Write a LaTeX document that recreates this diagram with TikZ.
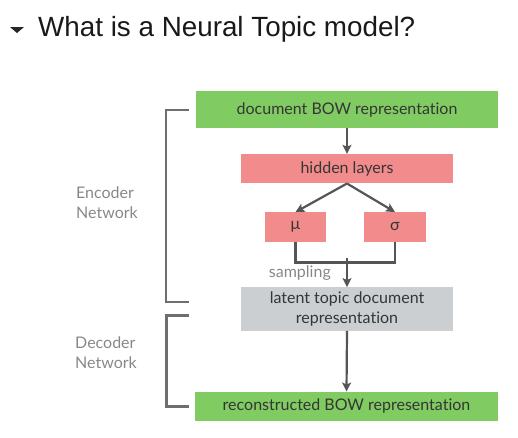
\documentclass[tikz,border=0pt]{standalone}
\usepackage{fontspec}
\setmainfont{Liberation Sans}
\newfontfamily\boxfont[Ligatures={NoCommon}]{Lato}
\usetikzlibrary{arrows.meta}
\definecolor{bgreen}{HTML}{80CC62}
\definecolor{bred}{HTML}{F28B8B}
\definecolor{bgray}{HTML}{CBCFD2}
\definecolor{btext}{HTML}{353535}
\definecolor{lgray}{HTML}{6B6F72}
\definecolor{ltext}{HTML}{85888A}
\definecolor{agray}{HTML}{555555}
\tikzset{
  boxbase/.style={draw=none, inner sep=0pt, font=\boxfont\fontsize{16}{19.5}\selectfont, text=btext, align=center},
  arr/.style={draw=agray, line width=2.2pt, -{Stealth[length=9pt,width=9pt,inset=2pt]}},
  link/.style={draw=agray, line width=2.2pt},
  brk/.style={draw=lgray, line width=2.8pt},
  side/.style={font=\boxfont\fontsize{16}{20}\selectfont, text=ltext, align=left, anchor=north west, inner sep=0pt}
}
\begin{document}
\begin{tikzpicture}[x=1pt,y=-1pt]
\useasboundingbox (0,0) rectangle (518,437);
% title
\fill[black!85] (10,27) -- (24,27) -- (17,33) -- cycle;
\node[anchor=base west, inner sep=0pt, font=\fontsize{27.8}{30}\selectfont, text=black!90] (title) at (38,36) {What is a Neural Topic model?};
% boxes
\node[boxbase, fill=bgreen, minimum width=302pt, minimum height=37pt] (doc) at (347,109.5) {document BOW representation};
\node[boxbase, fill=bred, minimum width=212pt, minimum height=29pt] (hid) at (347,168.5) {hidden layers};
\node[boxbase, fill=bred, minimum width=61pt, minimum height=29.5pt] (mu) at (295.5,227) {μ};
\node[boxbase, fill=bred, minimum width=62pt, minimum height=29.5pt] (sig) at (395,227) {σ};
\node[boxbase, fill=bgray, minimum width=212pt, minimum height=43.5pt] (lat) at (347,309) {latent topic document\\representation};
\node[boxbase, fill=bgreen, minimum width=303pt, minimum height=29pt] (rec) at (346.5,406.2) {reconstructed BOW representation};
% connectors
\draw[arr] (doc.south) -- (hid.north);
\coordinate (apex) at (347,183.5);
\draw[arr] (apex) -- (mu.north);
\draw[arr] (apex) -- (sig.north);
\coordinate (join) at (347,262.5);
\draw[link] (mu.south) |- (join) -| (sig.south);
\coordinate (samp) at (347,258);
\draw[arr] (samp) -- (lat.north);
\node[font=\boxfont\fontsize{16}{18}\selectfont, text=ltext, anchor=east, inner sep=0pt] (slabel) at (331,273) {sampling};
\draw[arr] (lat.south) -- (rec.north);
% brackets
\draw[brk] (189,110) -- (166,110) -- (166,302) -- (189,302);
\draw[brk] (189,315.5) -- (166.5,315.5) -- (166.5,406.5) -- (189,406.5);
\node[side] (enc) at (76,187) {Encoder\\Network};
\node[side] (dec) at (75,337) {Decoder\\Network};
\end{tikzpicture}
\end{document}
